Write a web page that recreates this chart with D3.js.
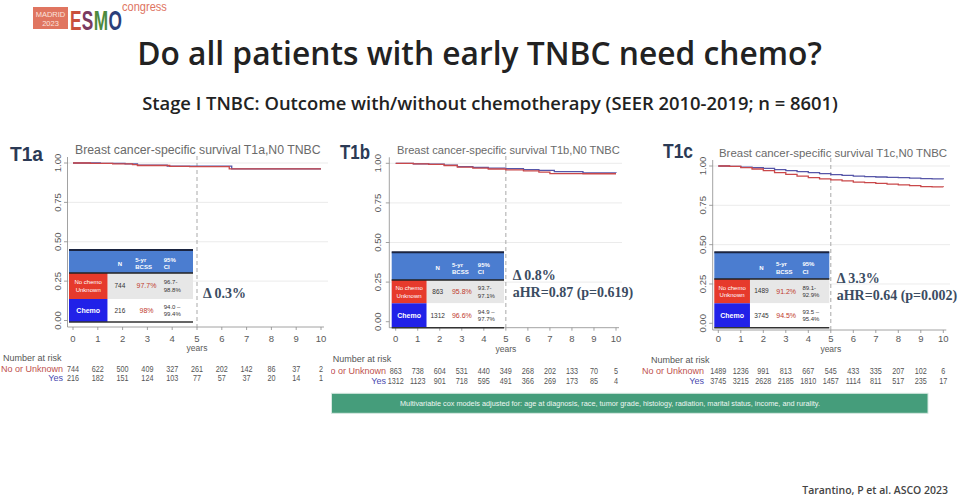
<!DOCTYPE html>
<html><head><meta charset="utf-8">
<script src="https://cdn.jsdelivr.net/npm/d3@7"></script>
<style>body{margin:0;background:#fff;} svg{display:block;font-family:"Liberation Sans",Arial,sans-serif;}</style>
</head><body><svg id="c" width="960" height="502"></svg>
<script>
// ---------- DATA ----------
const years = [0,1,2,3,4,5,6,7,8,9,10];
const yTicks = [0,0.25,0.5,0.75,1];
const yTickLabels = ["0.00","0.25","0.50","0.75","1.00"];
const panelIds = ["T1a","T1b","T1c"];
const panelTitles = ["Breast cancer-specific survival T1a,N0 TNBC","Breast cancer-specific survival T1b,N0 TNBC","Breast cancer-specific survival T1c,N0 TNBC"];
const riskGroups = ["No or Unknown","Yes"];
const riskNoT1a = [744,622,500,409,327,261,202,142,86,37,2];
const riskYesT1a = [216,182,151,124,103,77,57,37,20,14,1];
const riskNoT1b = [863,738,604,531,440,349,268,202,133,70,5];
const riskYesT1b = [1312,1123,901,718,595,491,366,269,173,85,4];
const riskNoT1c = [1489,1236,991,813,667,545,433,335,207,102,6];
const riskYesT1c = [3745,3215,2628,2185,1810,1457,1114,811,517,235,17];
// Kaplan-Meier estimates [year, survival]
const kmNoT1a = [[0,1],[0.7,0.998],[1.6,0.995],[2.4,0.99],[2.6,0.984],[3.9,0.979],[4.7,0.977],[6.3,0.963],[10,0.963]];
const kmYesT1a = [[0,1],[1.1,0.997],[2.1,0.994],[2.6,0.986],[3.8,0.98],[6.4,0.963],[10,0.963]];
const kmNoT1b = [[0,1],[0.8,0.996],[1.5,0.993],[2.2,0.986],[2.8,0.976],[3.5,0.97],[4.2,0.964],[5,0.958],[5.8,0.952],[6.5,0.944],[7,0.935],[8.5,0.934],[10,0.934]];
const kmYesT1b = [[0,1],[0.8,0.997],[1.5,0.994],[2.2,0.988],[2.8,0.979],[3.5,0.974],[4.2,0.97],[5,0.966],[5.8,0.96],[6.5,0.955],[7.2,0.948],[8.5,0.94],[10,0.938]];
const kmNoT1c = [[0,1],[0.5,0.997],[1,0.99],[1.5,0.981],[2,0.97],[2.5,0.958],[3,0.947],[3.5,0.935],[4,0.926],[4.5,0.918],[5,0.912],[5.5,0.905],[6,0.898],[6.5,0.894],[7,0.89],[7.5,0.885],[8,0.88],[8.5,0.875],[9,0.869],[9.5,0.867],[10,0.866]];
const kmYesT1c = [[0,1],[0.5,0.998],[1,0.993],[1.5,0.99],[2,0.985],[2.5,0.977],[3,0.97],[3.5,0.964],[4,0.958],[4.5,0.951],[5,0.945],[5.5,0.94],[6,0.936],[6.5,0.933],[7,0.93],[7.5,0.928],[8,0.926],[8.5,0.923],[9,0.92],[9.5,0.918],[10,0.915]];
// summary tables
const tableHeader = ["", "N", "5-yr\nBCSS", "95%\nCI"];
const tableRowLabels = ["No chemo\nUnknown", "Chemo"];
const tableN = [[744,216],[863,1312],[1489,3745]];
const tableBCSS = [["97.7%","98%"],["95.8%","96.6%"],["91.2%","94.5%"]];
const tableCI = [["96.7-\n98.8%","94.0 –\n99.4%"],["93.7-\n97.1%","94.9 –\n97.7%"],["89.1-\n92.9%","93.5 –\n95.4%"]];
const deltaTexts = [["Δ 0.3%"],["Δ 0.8%","aHR=0.87 (p=0.619)"],["Δ 3.3%","aHR=0.64 (p=0.002)"]];
const mainTitle = "Do all patients with early TNBC need chemo?";
const subTitle = "Stage I TNBC: Outcome with/without chemotherapy (SEER 2010-2019; n = 8601)";
const footnoteBar = "Multivariable cox models adjusted for: age at diagnosis, race, tumor grade, histology, radiation, marital status, income, and rurality.";
const citation = "Tarantino, P et al. ASCO 2023";

const riskNo = [riskNoT1a, riskNoT1b, riskNoT1c];
const riskYes = [riskYesT1a, riskYesT1b, riskYesT1c];
const kmNo = [kmNoT1a, kmNoT1b, kmNoT1c];
const kmYes = [kmYesT1a, kmYesT1b, kmYesT1c];

// ---------- LAYOUT ----------
const layout = [
 {labelX:10,labelY:160.5,labelW:33,titleX:75,titleY:154,xL:73,xR:321,yTop:163,yBot:320.5,axisX:67.5,axisY:327,gridR:328,yLabX:57,tickY:341.5,dashTop:156,
  tb:{x:69,w:124,y:250,hdr:273,r1:299,bot:322}, dx:203, dy:[298],
  risk:{labX:63,narX:3,yearsY:351,narY:361,noY:371.5,yesY:381}, clip:0},
 {labelX:340,labelY:159,labelW:30,titleX:397,titleY:154,xL:395.7,xR:616,yTop:163.3,yBot:321.7,axisX:389.3,axisY:327.7,gridR:622,yLabX:377,tickY:342,dashTop:156,
  tb:{x:391.7,w:112.3,y:252.3,hdr:280,r1:303.3,bot:327.7}, dx:512.7, dy:[280,297],
  risk:{labX:386,narX:332.7,yearsY:352,narY:362,noY:373.5,yesY:384}, clip:331},
 {labelX:663,labelY:158,labelW:30,titleX:719,titleY:157,xL:718.3,xR:943.3,yTop:166,yBot:323.3,axisX:712.7,axisY:330,gridR:950,yLabX:702,tickY:342,dashTop:158,
  tb:{x:714.3,w:115,y:252.3,hdr:279,r1:303.3,bot:327.7}, dx:836.7, dy:[283,299.5],
  risk:{labX:704,narX:651,yearsY:352,narY:363,noY:373.5,yesY:384}, clip:635}
];

const C = {red:"#c9484a", blue:"#5656a8", axis:"#8a8a8a", grid:"#e6e6e6", tick:"#5a5a5a", title:"#6a6a6a",
  hdr:"#4b7dd0", cellRed:"#e63a2c", cellBlue:"#2121e8", gray:"#e7e7e7", slate:"#3b4c62"};

const svg = d3.select("#c");

function fitWidth(sel, target){
  const w = sel.node().getComputedTextLength();
  const fs = parseFloat(sel.attr("font-size"));
  sel.attr("font-size", fs*target/w);
}
function squeeze(sel, sx){
  sel.each(function(){
    const w = this.getComputedTextLength();
    d3.select(this).attr("textLength", w*sx).attr("lengthAdjust","spacingAndGlyphs");
  });
}

// ---------- LOGO ----------
const logo = svg.append("g");
logo.append("rect").attr("x",33).attr("y",7).attr("width",35).attr("height",22).attr("fill","#e07560");
logo.append("text").attr("x",50.5).attr("y",16.5).attr("text-anchor","middle").attr("font-size",7.5).attr("fill","#fbe3dc").text("MADRID");
logo.append("text").attr("x",50.5).attr("y",26).attr("text-anchor","middle").attr("font-size",7.5).attr("fill","#fbe3dc").text("2023");
const esmoLetters = ["E","S","M","O"];
const esmoColors = ["#c9503c","#7a3a60","#4d8a3e","#2b3f7a"];
const esmoG = logo.append("g").attr("transform","translate(70,30) scale(0.64,1)");
let ex = 0;
esmoLetters.forEach((l,i)=>{
  const t = esmoG.append("text").attr("x",ex).attr("y",0).attr("font-size",27).attr("font-weight","bold").attr("fill",esmoColors[i]).text(l);
  ex += t.node().getComputedTextLength() + 0.5;
});
const cg = logo.append("text").attr("x",122).attr("y",11).attr("font-size",13).attr("fill","#de7462").text("congress");
squeeze(cg, 0.85);

// ---------- TITLES ----------
const t1 = svg.append("text").attr("x",479.5).attr("y",65).attr("text-anchor","middle")
  .attr("font-family","'Open Sans',sans-serif").attr("font-weight",600).attr("font-size",28).attr("fill","#222").text(mainTitle);
fitWidth(t1, 685);
const t2 = svg.append("text").attr("x",490).attr("y",109.5).attr("text-anchor","middle")
  .attr("font-family","'Open Sans',sans-serif").attr("font-weight",600).attr("font-size",16).attr("fill","#222").text(subTitle);
fitWidth(t2, 696);

// ---------- PANELS ----------
svg.append("defs");
layout.forEach((L,pi)=>{
  const cp = "clip"+pi;
  svg.select("defs").append("clipPath").attr("id",cp).append("rect").attr("x",L.clip).attr("y",130).attr("width",960-L.clip).attr("height",260);
  const g = svg.append("g").attr("clip-path",`url(#${cp})`);
  const x = d3.scaleLinear().domain([0,10]).range([L.xL,L.xR]);
  const y = d3.scaleLinear().domain([0,1]).range([L.yBot,L.yTop]);

  g.append("text").attr("x",L.labelX).attr("y",L.labelY).attr("font-size",21).attr("font-weight","bold").attr("fill","#2b3a55")
    .attr("textLength",L.labelW).attr("lengthAdjust","spacingAndGlyphs").text(panelIds[pi]);
  const pt = g.append("text").attr("x",L.titleX).attr("y",L.titleY).attr("font-size",12).attr("fill",C.title).text(panelTitles[pi]);
  fitWidth(pt, (L.xR - L.titleX) + (pi===0?0:4));

  // grid
  g.selectAll(".gr").data(yTicks.filter(v=>v>0)).join("line")
    .attr("x1",L.axisX).attr("x2",L.gridR).attr("y1",d=>y(d)).attr("y2",d=>y(d)).attr("stroke",C.grid).attr("stroke-width",0.8);

  // axes
  g.append("line").attr("x1",L.axisX).attr("x2",L.axisX).attr("y1",L.yTop-6).attr("y2",L.axisY).attr("stroke",C.axis).attr("stroke-width",0.8);
  g.append("line").attr("x1",L.axisX).attr("x2",L.xR+3).attr("y1",L.axisY).attr("y2",L.axisY).attr("stroke",C.axis).attr("stroke-width",0.8);
  g.selectAll(".yt").data(yTicks).join("line").attr("x1",L.axisX-3.5).attr("x2",L.axisX).attr("y1",d=>y(d)).attr("y2",d=>y(d)).attr("stroke",C.axis).attr("stroke-width",0.8);
  g.selectAll(".ytl").data(yTicks).join("text")
    .attr("transform",d=>`translate(${L.yLabX+3.5},${y(d)}) rotate(-90)`).attr("text-anchor","middle")
    .attr("font-size",9.5).attr("fill",C.tick).text((d,i)=>yTickLabels[i]);
  g.selectAll(".xt").data(years).join("line").attr("x1",d=>x(d)).attr("x2",d=>x(d)).attr("y1",L.axisY).attr("y2",L.axisY+3).attr("stroke",C.axis).attr("stroke-width",0.8);
  g.selectAll(".xtl").data(years).join("text").attr("x",d=>x(d)).attr("y",L.tickY).attr("text-anchor","middle")
    .attr("font-size",9.5).attr("fill",C.tick).text(d=>d);
  g.append("text").attr("x",x(5)).attr("y",L.risk.yearsY).attr("text-anchor","middle").attr("font-size",8.5).attr("fill",C.tick).text("years");

  // dashed 5-year line
  g.append("line").attr("x1",x(5)).attr("x2",x(5)).attr("y1",L.dashTop).attr("y2",L.axisY).attr("stroke","#a9a9a9").attr("stroke-width",1).attr("stroke-dasharray","4,3");

  // curves
  const line = d3.line().x(d=>x(d[0])).y(d=>y(d[1])).curve(d3.curveStepAfter);
  g.append("path").attr("d",line(kmYes[pi])).attr("fill","none").attr("stroke",C.blue).attr("stroke-width",1.3);
  g.append("path").attr("d",line(kmNo[pi])).attr("fill","none").attr("stroke",C.red).attr("stroke-width",1.3);

  // table
  const T = L.tb;
  const colX = [0,0.31,0.51,0.74].map(f=>T.x+f*T.w);
  const colC = [T.x+0.155*T.w, T.x+0.41*T.w, T.x+0.625*T.w, T.x+0.79*T.w];
  g.append("rect").attr("x",T.x).attr("y",T.y).attr("width",T.w).attr("height",T.hdr-T.y).attr("fill",C.hdr);
  g.append("rect").attr("x",T.x).attr("y",T.hdr).attr("width",T.w).attr("height",T.r1-T.hdr).attr("fill",C.gray);
  g.append("rect").attr("x",T.x).attr("y",T.r1).attr("width",T.w).attr("height",T.bot-T.r1).attr("fill","#fff");
  g.append("rect").attr("x",T.x).attr("y",T.hdr).attr("width",colX[1]-T.x).attr("height",T.r1-T.hdr).attr("fill",C.cellRed);
  g.append("rect").attr("x",T.x).attr("y",T.r1).attr("width",colX[1]-T.x).attr("height",T.bot-T.r1).attr("fill",C.cellBlue);
  g.append("line").attr("x1",T.x).attr("x2",T.x+T.w).attr("y1",T.y).attr("y2",T.y).attr("stroke","#1b2440").attr("stroke-width",2);
  g.append("line").attr("x1",T.x).attr("x2",T.x+T.w).attr("y1",T.hdr).attr("y2",T.hdr).attr("stroke","#222").attr("stroke-width",1.5);
  g.append("line").attr("x1",T.x).attr("x2",T.x+T.w).attr("y1",T.bot).attr("y2",T.bot).attr("stroke","#333").attr("stroke-width",1.6);

  function multi(cx, cy, txt, opts){
    const parts = txt.split("\n");
    const anchor = opts.anchor||"middle";
    const t = g.append("text").attr("x",cx).attr("text-anchor",anchor).attr("font-size",opts.fs).attr("fill",opts.fill)
      .attr("font-weight",opts.bold?"bold":"normal");
    const lh = opts.fs*1.25;
    const y0 = cy - (parts.length-1)*lh/2 + opts.fs*0.35;
    parts.forEach((p,i)=>t.append("tspan").attr("x",cx).attr("y",y0+i*lh).text(p));
  }
  const hc = (T.y+T.hdr)/2 + 2;
  multi(colC[1], hc, tableHeader[1], {fs:6, fill:"#fff", bold:true});
  multi(colX[2]+3, hc, tableHeader[2], {fs:6, fill:"#fff", bold:true, anchor:"start"});
  multi(colX[3]+3, hc, tableHeader[3], {fs:6, fill:"#fff", bold:true, anchor:"start"});
  const rc = [(T.hdr+T.r1)/2, (T.r1+T.bot)/2];
  [0,1].forEach(r=>{
    multi(colC[0], rc[r], tableRowLabels[r], {fs:r===0?6:7, fill:"#fff", bold:r===1});
    multi(colC[1], rc[r], String(tableN[pi][r]), {fs:6.5, fill:"#333"});
    multi(colC[2], rc[r], tableBCSS[pi][r], {fs:7, fill:"#c0392b"});
    multi(colX[3]+3, rc[r], tableCI[pi][r], {fs:6, fill:"#333", anchor:"start"});
  });

  // delta text
  deltaTexts[pi].forEach((s,i)=>{
    g.append("text").attr("x",L.dx).attr("y",L.dy[i]).attr("font-family","'Liberation Serif','Times New Roman',serif")
      .attr("font-weight","bold").attr("font-size",14).attr("fill",C.slate).text(s);
  });

  // risk table
  const R = L.risk;
  g.append("text").attr("x",R.narX).attr("y",R.narY).attr("font-size",9).attr("fill","#555").text("Number at risk");
  g.append("text").attr("x",R.labX).attr("y",R.noY).attr("text-anchor","end").attr("font-size",9).attr("fill","#c0504d").text(riskGroups[0]);
  g.append("text").attr("x",R.labX).attr("y",R.yesY).attr("text-anchor","end").attr("font-size",9).attr("fill","#4a4ab0").text(riskGroups[1]);
  const rn = g.selectAll(".rn").data(riskNo[pi]).join("text").attr("x",(d,i)=>x(years[i])).attr("y",R.noY).attr("text-anchor","middle").attr("font-size",9.5).attr("fill","#555").text(d=>d);
  const ry = g.selectAll(".ry").data(riskYes[pi]).join("text").attr("x",(d,i)=>x(years[i])).attr("y",R.yesY).attr("text-anchor","middle").attr("font-size",9.5).attr("fill","#555").text(d=>d);
  squeeze(rn, 0.76); squeeze(ry, 0.76);
});

// ---------- GREEN BAR ----------
svg.append("rect").attr("x",331.5).attr("y",393.3).attr("width",596.5).attr("height",20).attr("fill","#459d7b").attr("stroke","#d6e9e1").attr("stroke-width",1);
svg.append("text").attr("x",610).attr("y",406).attr("text-anchor","middle").attr("font-size",7.5).attr("fill","#eef7f2")
  .attr("textLength",420).attr("lengthAdjust","spacingAndGlyphs").text(footnoteBar);

// ---------- CITATION ----------
const ct = svg.append("text").attr("x",948).attr("y",494).attr("text-anchor","end").attr("font-family","'Open Sans',sans-serif")
  .attr("font-weight",600).attr("font-size",11).attr("fill","#444").text(citation);
fitWidth(ct, 146);
</script></body></html>
